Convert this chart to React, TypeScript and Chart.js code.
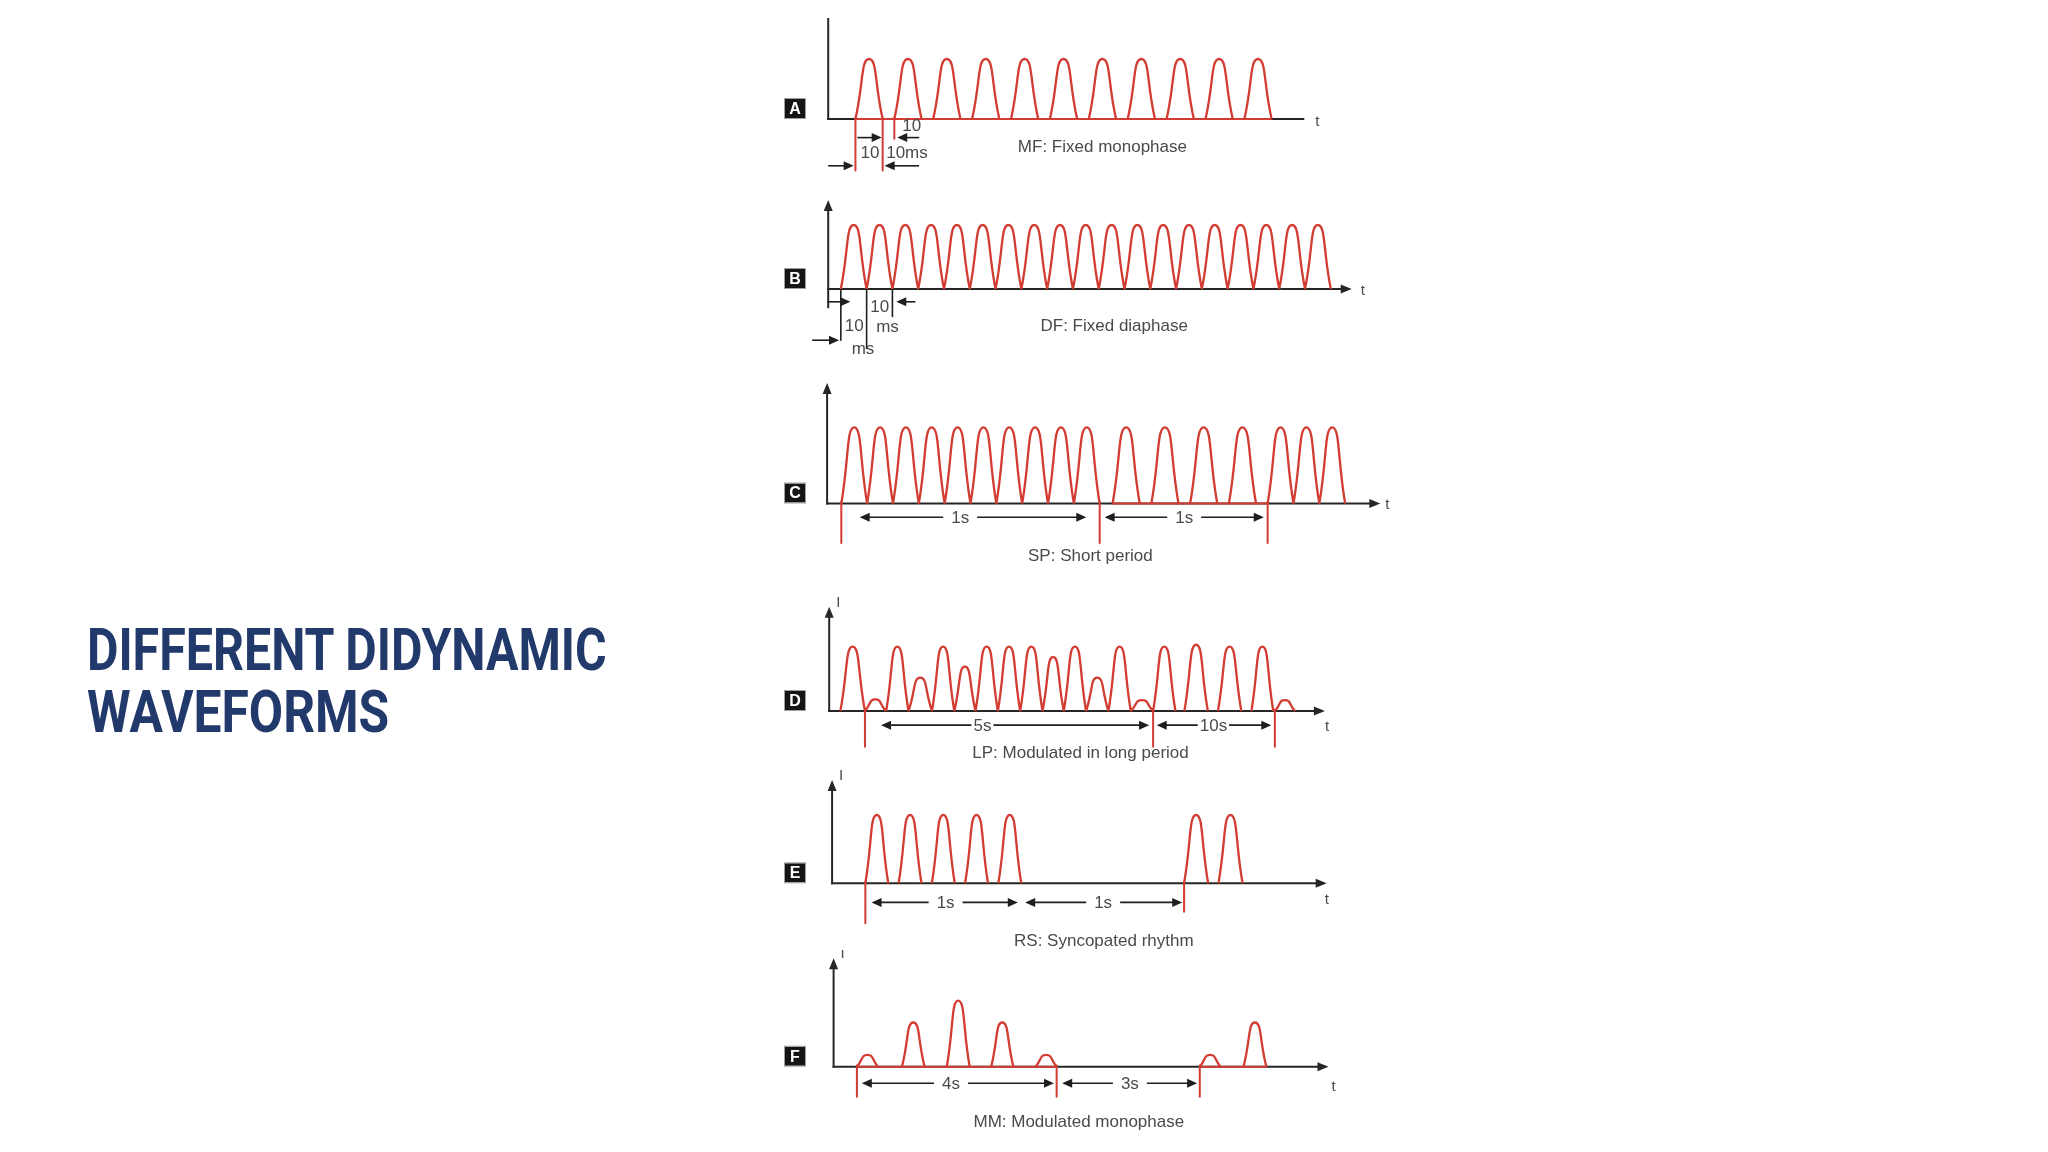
import React, { useEffect, useLayoutEffect, useRef } from "react";
import { Chart, registerables } from "chart.js";

Chart.register(...registerables);

const RED = "#d23c33";
const AXIS = "#262626";
const TEXT = "#4a4a4a";
const FONT = '"Liberation Sans", Arial, sans-serif';
const CANVAS_LEFT = 770;
const CANVAS_RIGHT = 1400;

// ---------- A: MF fixed monophase ----------
const A_START = [0, 20, 40, 60, 80, 100, 120, 140, 160, 180, 200];
const A_END = [14, 34, 54, 74, 94, 114, 134, 154, 174, 194, 214];
const A_AMP = [1, 1, 1, 1, 1, 1, 1, 1, 1, 1, 1];
const A_SPIKE_X = [0, 14, 20];
const A_SPIKE_Y = [-0.86, -0.86, -0.33];
const A_BASE = [0, 214];

// ---------- B: DF fixed diaphase ----------
const B_START = [0, 10, 20, 30, 40, 50, 60, 70, 80, 90, 100, 110, 120, 130, 140, 150, 160, 170, 180];
const B_END = [10, 20, 30, 40, 50, 60, 70, 80, 90, 100, 110, 120, 130, 140, 150, 160, 170, 180, 190];
const B_AMP = [1, 1, 1, 1, 1, 1, 1, 1, 1, 1, 1, 1, 1, 1, 1, 1, 1, 1, 1];
const B_MARK_X = [0, 10, 20];
const B_MARK_Y = [-0.8, -0.93, -0.43];

// ---------- C: SP short period ----------
const C_START = [0, 10, 20, 30, 40, 50, 60, 70, 80, 90, 105, 120, 135, 150, 165, 175, 185];
const C_END = [10, 20, 30, 40, 50, 60, 70, 80, 90, 100, 115.5, 130.5, 145.5, 160.5, 175, 185, 195];
const C_AMP = [1, 1, 1, 1, 1, 1, 1, 1, 1, 1, 1, 1, 1, 1, 1, 1, 1];
const C_SPIKE_X = [0, 100, 165];
const C_SPIKE_Y = [-0.52, -0.52, -0.52];
const C_BASE = [105, 165];

// ---------- D: LP modulated in long period ----------
const D_START = [0, 11, 20.5, 30.5, 41, 51, 60.5, 70.5, 80.5, 90.5, 100, 110, 120, 130, 140, 154, 169, 184, 194.5];
const D_END = [11, 20.3, 30.5, 41, 51, 60.5, 70.5, 80.5, 90.5, 100, 110, 120, 130, 140, 150, 164.5, 179.5, 193.8, 203.5];
const D_AMP = [1, 0.18, 1, 0.52, 1, 0.69, 1, 1, 1, 0.84, 1, 0.52, 1, 0.17, 1, 1.03, 1, 1, 0.17];
const D_SPIKE_X = [11, 140, 194.5];
const D_SPIKE_Y = [-0.555, -0.555, -0.555];

// ---------- E: RS syncopated rhythm ----------
const E_START = [0, 14.5, 29, 43.5, 58, 139, 154];
const E_END = [10, 24.5, 39, 53.5, 68, 149.5, 164.5];
const E_AMP = [1, 1, 1, 1, 1, 1, 1];
const E_SPIKE_X = [0, 139];
const E_SPIKE_Y = [-0.586, -0.416];

// ---------- F: MM modulated monophase ----------
const F_START = [0, 20.3, 40.5, 60.5, 80.5, 154.5, 174.2];
const F_END = [9.5, 30.5, 50.8, 70.5, 90, 163.8, 184.5];
const F_AMP = [0.18, 0.67, 1, 0.67, 0.18, 0.18, 0.67];
const F_SPIKE_X = [0, 90, 154.5];
const F_SPIKE_Y = [-0.455, -0.455, -0.455];
const F_BASE = [0, 90, 154.5, 184.5];

type Arrow = { x1: number; x2: number; y: number; both?: boolean; label?: string; lx?: number; pad?: number };
type Label = { x: number; y: number; t: string };
type Geo = {
  top: number; bottom: number; yAxisX: number; endX: number; topY: number; axisY: number; peakY: number;
  xMin: number; xMax: number; heads: boolean; yBelow?: number; tDx: number; tDy: number; showI: boolean;
};
type Panel = {
  letter: string; caption: string; capX: number; capY: number;
  start: number[]; end: number[]; amp: number[];
  spikeX: number[]; spikeY: number[]; base: number[];
  markX?: number[]; markY?: number[];
  arrows: Arrow[]; labels: Label[]; geo: Geo;
};

const PANELS: Panel[] = [
  {
    letter: "A", caption: "MF: Fixed monophase", capX: 127, capY: -0.48,
    start: A_START, end: A_END, amp: A_AMP, spikeX: A_SPIKE_X, spikeY: A_SPIKE_Y, base: A_BASE,
    arrows: [
      { x1: 1, x2: 13.5, y: -0.31 },
      { x1: 32.8, x2: 21.5, y: -0.31 },
      { x1: -14, x2: -0.9, y: -0.78 },
      { x1: 32.7, x2: 15, y: -0.78 },
    ],
    labels: [
      { x: 7.5, y: -0.57, t: "10" },
      { x: 29, y: -0.13, t: "10" },
      { x: 26.5, y: -0.57, t: "10ms" },
    ],
    geo: { top: 5, bottom: 185, yAxisX: 828.2, endX: 1304.3, topY: 18, axisY: 119, peakY: 59, xMin: -14, xMax: 230.8, heads: false, tDx: 11, tDy: 3, showI: false },
  },
  {
    letter: "B", caption: "DF: Fixed diaphase", capX: 106, capY: -0.59,
    start: B_START, end: B_END, amp: B_AMP, spikeX: [], spikeY: [], base: [],
    markX: B_MARK_X, markY: B_MARK_Y,
    arrows: [
      { x1: -5.2, x2: 3.7, y: -0.2 },
      { x1: 28.9, x2: 21.5, y: -0.2 },
      { x1: -11.1, x2: -0.7, y: -0.8 },
    ],
    labels: [
      { x: 15.1, y: -0.28, t: "10" },
      { x: 18.1, y: -0.6, t: "ms" },
      { x: 5.2, y: -0.58, t: "10" },
      { x: 8.6, y: -0.95, t: "ms" },
    ],
    geo: { top: 190, bottom: 370, yAxisX: 828.2, endX: 1351.7, topY: 200, axisY: 289, peakY: 225, xMin: -4.9, xMax: 198.1, heads: true, yBelow: -0.3, tDx: 9, tDy: 2, showI: false },
  },
  {
    letter: "C", caption: "SP: Short period", capX: 96.4, capY: -0.69,
    start: C_START, end: C_END, amp: C_AMP, spikeX: C_SPIKE_X, spikeY: C_SPIKE_Y, base: C_BASE,
    arrows: [
      { x1: 7.1, x2: 94.8, y: -0.18, both: true, label: "1s", lx: 46, pad: 8 },
      { x1: 101.9, x2: 163.5, y: -0.18, both: true, label: "1s", lx: 132.7, pad: 8 },
    ],
    labels: [],
    geo: { top: 375, bottom: 575, yAxisX: 827.1, endX: 1380.3, topY: 383, axisY: 503.5, peakY: 427.3, xMin: -5.5, xMax: 208.6, heads: true, tDx: 5, tDy: 1, showI: false },
  },
  {
    letter: "D", caption: "LP: Modulated in long period", capX: 107.5, capY: -0.66,
    start: D_START, end: D_END, amp: D_AMP, spikeX: D_SPIKE_X, spikeY: D_SPIKE_Y, base: [],
    arrows: [
      { x1: 18.2, x2: 138.2, y: -0.22, both: true, label: "5s", lx: 63.6, pad: 2 },
      { x1: 141.6, x2: 192.9, y: -0.22, both: true, label: "10s", lx: 167, pad: 2 },
    ],
    labels: [],
    geo: { top: 592, bottom: 770, yAxisX: 829.2, endX: 1324.9, topY: 606.7, axisY: 711, peakY: 646.7, xMin: -5, xMax: 216.9, heads: true, tDx: 0, tDy: 16, showI: true },
  },
  {
    letter: "E", caption: "RS: Syncopated rhythm", capX: 104, capY: -0.85,
    start: E_START, end: E_END, amp: E_AMP, spikeX: E_SPIKE_X, spikeY: E_SPIKE_Y, base: [],
    arrows: [
      { x1: 2.7, x2: 66.5, y: -0.28, both: true, label: "1s", lx: 35, pad: 8 },
      { x1: 69.7, x2: 138.2, y: -0.28, both: true, label: "1s", lx: 103.7, pad: 8 },
    ],
    labels: [],
    geo: { top: 768, bottom: 955, yAxisX: 832.1, endX: 1326.7, topY: 780, axisY: 883.3, peakY: 815, xMin: -14.5, xMax: 201.2, heads: true, tDx: -2, tDy: 17, showI: true },
  },
  {
    letter: "F", caption: "MM: Modulated monophase", capX: 100, capY: -0.84,
    start: F_START, end: F_END, amp: F_AMP, spikeX: F_SPIKE_X, spikeY: F_SPIKE_Y, base: F_BASE,
    arrows: [
      { x1: 2.2, x2: 88.8, y: -0.25, both: true, label: "4s", lx: 42.4, pad: 8 },
      { x1: 92.5, x2: 153.3, y: -0.25, both: true, label: "3s", lx: 123, pad: 8 },
    ],
    labels: [],
    geo: { top: 950, bottom: 1142, yAxisX: 833.6, endX: 1328.5, topY: 958.3, axisY: 1066.7, peakY: 1000.7, xMin: -10.5, xMax: 212.5, heads: true, tDx: 3, tDy: 20, showI: true },
  },
];

function head(ctx: CanvasRenderingContext2D, x: number, y: number, dx: number, dy: number, len: number, hw: number) {
  ctx.beginPath();
  ctx.moveTo(x, y);
  ctx.lineTo(x - dx * len - dy * hw, y - dy * len + dx * hw);
  ctx.lineTo(x - dx * len + dy * hw, y - dy * len - dx * hw);
  ctx.closePath();
  ctx.fill();
}

function makeDecor(p: Panel) {
  return {
    id: "decor" + p.letter,
    beforeDatasetsDraw(chart: any) {
      const { ctx, chartArea, scales } = chart;
      const ys = scales.y;
      const y0 = ys.getPixelForValue(0);
      const g = p.geo;
      ctx.save();
      ctx.strokeStyle = AXIS;
      ctx.fillStyle = AXIS;
      ctx.lineWidth = 2;
      ctx.beginPath();
      ctx.moveTo(chartArea.left - 1, y0);
      ctx.lineTo(g.heads ? chartArea.right - 8 : chartArea.right, y0);
      ctx.stroke();
      const yb = g.yBelow !== undefined ? ys.getPixelForValue(g.yBelow) : y0 + 1;
      ctx.beginPath();
      ctx.moveTo(chartArea.left, yb);
      ctx.lineTo(chartArea.left, g.heads ? chartArea.top + 8 : chartArea.top);
      ctx.stroke();
      if (g.heads) {
        head(ctx, chartArea.right, y0, 1, 0, 11, 4.5);
        head(ctx, chartArea.left, chartArea.top, 0, -1, 11, 4.5);
      }
      ctx.restore();
    },
    afterDatasetsDraw(chart: any) {
      const { ctx, chartArea, scales } = chart;
      const xs = scales.x, ys = scales.y;
      const y0 = ys.getPixelForValue(0);
      const g = p.geo;
      ctx.save();
      ctx.lineWidth = 1.6;
      ctx.font = `17px ${FONT}`;
      ctx.textAlign = "center";
      ctx.textBaseline = "middle";
      for (const a of p.arrows) {
        const px1 = xs.getPixelForValue(a.x1);
        const px2 = xs.getPixelForValue(a.x2);
        const py = ys.getPixelForValue(a.y);
        const dir = px2 > px1 ? 1 : -1;
        ctx.strokeStyle = "#1e1e1e";
        ctx.fillStyle = "#1e1e1e";
        ctx.beginPath();
        ctx.moveTo(a.both ? px1 + dir * 8 : px1, py);
        ctx.lineTo(px2 - dir * 8, py);
        ctx.stroke();
        head(ctx, px2, py, dir, 0, 10, 4.5);
        if (a.both) head(ctx, px1, py, -dir, 0, 10, 4.5);
        if (a.label && a.lx !== undefined) {
          const lx = xs.getPixelForValue(a.lx);
          const w = ctx.measureText(a.label).width;
          const pad = a.pad ?? 6;
          ctx.fillStyle = "#ffffff";
          ctx.fillRect(lx - w / 2 - pad, py - 9, w + pad * 2, 18);
          ctx.fillStyle = TEXT;
          ctx.fillText(a.label, lx, py + 1);
        }
      }
      ctx.fillStyle = TEXT;
      for (const l of p.labels) {
        ctx.fillText(l.t, xs.getPixelForValue(l.x), ys.getPixelForValue(l.y));
      }
      ctx.fillText(p.caption, xs.getPixelForValue(p.capX), ys.getPixelForValue(p.capY));
      ctx.font = `15px ${FONT}`;
      ctx.textAlign = "left";
      ctx.fillText("t", chartArea.right + g.tDx, y0 + g.tDy);
      if (g.showI) ctx.fillText("I", chartArea.left + 7, chartArea.top - 4);
      // letter box
      const bx = 785 - CANVAS_LEFT;
      const by = y0 - 20;
      ctx.fillStyle = "#151515";
      ctx.fillRect(bx, by, 20, 19);
      ctx.strokeStyle = "#a0a0a0";
      ctx.lineWidth = 1;
      ctx.strokeRect(bx - 0.5, by - 0.5, 21, 20);
      ctx.fillStyle = "#ffffff";
      ctx.font = `bold 16px ${FONT}`;
      ctx.textAlign = "center";
      ctx.fillText(p.letter, bx + 10, by + 10.5);
      ctx.restore();
    },
  };
}

function PanelChart({ p }: { p: Panel }) {
  const ref = useRef<HTMLCanvasElement | null>(null);
  const g = p.geo;
  const h = g.bottom - g.top;
  useEffect(() => {
    if (!ref.current) return;
    const ampPx = g.axisY - g.peakY;
    const yMax = (g.axisY - g.topY) / ampPx;
    const yMin = -(g.bottom - g.axisY) / ampPx;
    const pulses: any[] = [];
    p.start.forEach((s, i) => {
      const e = p.end[i];
      pulses.push({ x: s, y: 0 }, { x: (s + e) / 2, y: p.amp[i] }, { x: e, y: 0 }, { x: e, y: null });
    });
    const spikes: any[] = [];
    p.spikeX.forEach((x, i) => {
      spikes.push({ x, y: 0.02 }, { x, y: p.spikeY[i] }, { x, y: null });
    });
    const base: any[] = [];
    for (let i = 0; i + 1 < p.base.length; i += 2) {
      base.push({ x: p.base[i], y: 0 }, { x: p.base[i + 1], y: 0 }, { x: p.base[i + 1], y: null });
    }
    const marks: any[] = [];
    (p.markX || []).forEach((x, i) => {
      marks.push({ x, y: 0 }, { x, y: (p.markY as number[])[i] }, { x, y: null });
    });
    const common = { pointRadius: 0, fill: false, spanGaps: false, clip: false as any, borderJoinStyle: "round" as const };
    const chart = new Chart(ref.current, {
      type: "line",
      data: {
        datasets: [
          { ...common, data: spikes, borderColor: RED, borderWidth: 2, tension: 0 },
          { ...common, data: pulses, borderColor: RED, borderWidth: 2.3, tension: 0.6 },
          { ...common, data: base, borderColor: RED, borderWidth: 2, tension: 0 },
          { ...common, data: marks, borderColor: "#1e1e1e", borderWidth: 1.6, tension: 0 },
        ],
      },
      options: {
        responsive: false,
        animation: false,
        devicePixelRatio: 1,
        events: [],
        layout: { padding: { left: g.yAxisX - CANVAS_LEFT, right: CANVAS_RIGHT - g.endX, top: g.topY - g.top, bottom: 0 } },
        scales: {
          x: { type: "linear", min: g.xMin, max: g.xMax, display: false },
          y: { type: "linear", min: yMin, max: yMax, display: false },
        },
        plugins: { legend: { display: false }, tooltip: { enabled: false }, title: { display: false } },
      },
      plugins: [makeDecor(p)],
    });
    return () => chart.destroy();
  }, [p]);
  return (
    <canvas
      ref={ref}
      width={CANVAS_RIGHT - CANVAS_LEFT}
      height={h}
      style={{ position: "absolute", left: CANVAS_LEFT, top: g.top, width: CANVAS_RIGHT - CANVAS_LEFT, height: h }}
    />
  );
}

function TitleLine({ text, top, target }: { text: string; top: number; target: number }) {
  const ref = useRef<HTMLDivElement | null>(null);
  useLayoutEffect(() => {
    const fit = () => {
      const el = ref.current;
      if (!el) return;
      el.style.transform = "none";
      const w = el.offsetWidth;
      if (w > 0) el.style.transform = `scaleX(${target / w})`;
    };
    fit();
    if ((document as any).fonts && (document as any).fonts.ready) (document as any).fonts.ready.then(fit);
  }, [text, target]);
  return (
    <div
      ref={ref}
      style={{
        position: "absolute",
        left: 87,
        top,
        fontFamily: "Roboto, 'Noto Sans', sans-serif",
        fontWeight: 700,
        fontSize: 59,
        lineHeight: "59px",
        color: "#22396b",
        whiteSpace: "nowrap",
        transformOrigin: "0 0",
        display: "inline-block",
      }}
    >
      {text}
    </div>
  );
}

export default function App() {
  return (
    <div style={{ position: "absolute", left: 0, top: 0, width: 2048, height: 1152, background: "#ffffff", overflow: "hidden" }}>
      <TitleLine text="DIFFERENT DIDYNAMIC" top={620} target={520} />
      <TitleLine text="WAVEFORMS" top={682} target={302} />
      {PANELS.map((p) => (
        <PanelChart key={p.letter} p={p} />
      ))}
    </div>
  );
}
